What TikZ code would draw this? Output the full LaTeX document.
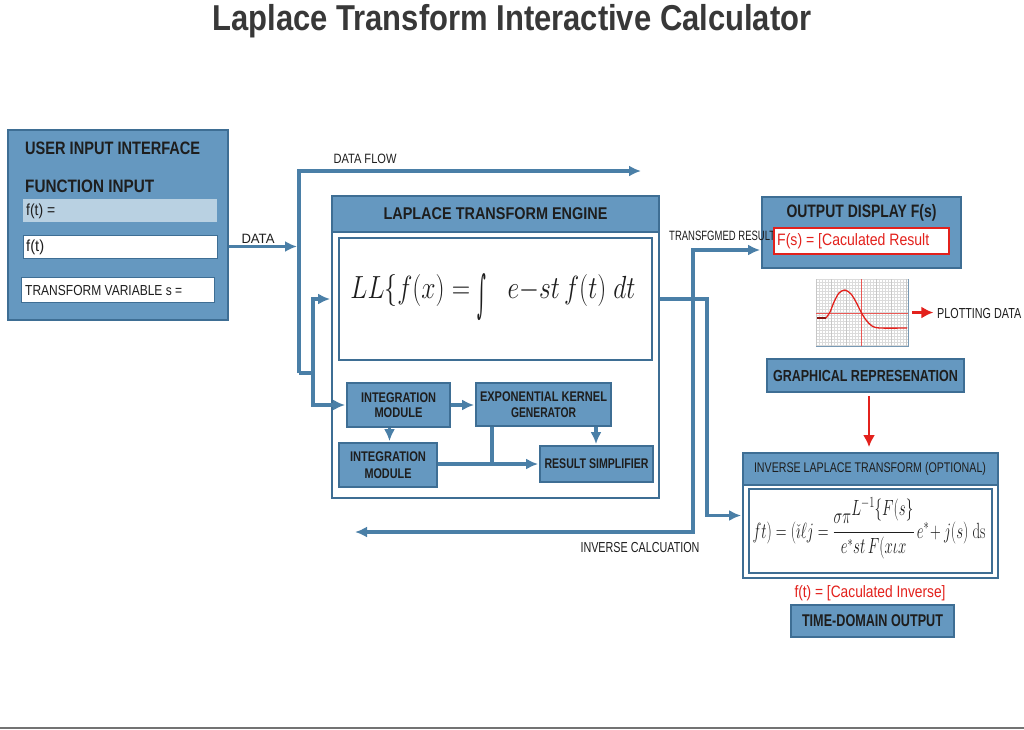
\RequirePackage{fix-cm}
\documentclass[tikz,border=0pt]{standalone}
\usepackage[no-math]{fontspec}
\setmainfont{Liberation Sans}
\newfontfamily\symf{DejaVu Serif}
\usepackage{graphicx}
\usetikzlibrary{arrows.meta,calc}
\definecolor{bfill}{HTML}{6598C0}
\definecolor{bdr}{HTML}{3E6E94}
\definecolor{conn}{HTML}{4A7FA7}
\definecolor{txt}{HTML}{1E1E1E}
\definecolor{lbar}{HTML}{B9D1E2}
\definecolor{rd}{HTML}{E3211C}
\definecolor{ttl}{HTML}{383838}
\newcommand\tw[2]{\resizebox{#1pt}{\height}{#2}}
\newcommand\fs[1]{\fontsize{#1}{#1}\selectfont}
\newcommand\bigint{\raisebox{-13pt}{\resizebox*{11pt}{47pt}{\symf ∫}}}
\begin{document}
\begin{tikzpicture}[x=1pt,y=-1pt,
  box/.style={draw=bdr, fill=bfill, line width=1.8pt, inner sep=0pt},
  wbox/.style={draw=bdr, fill=white, line width=1.8pt, inner sep=0pt},
  lbl/.style={inner sep=0pt, text=txt},
  cn/.style={draw=conn, line width=3.2pt, -{Latex[length=12pt,width=11pt]}},
  cnp/.style={draw=conn, line width=3.2pt},
  rarr/.style={draw=rd, line width=2.6pt, -{Latex[length=12pt,width=12pt]}}]
\fill[white] (0,0) rectangle (1024,729);
\useasboundingbox (0,0) rectangle (1024,729);
\fill[black!55] (0,727) rectangle (1024,729);

% title
\node[lbl, anchor=base, text=ttl] (title) at (512,30) {\tw{599}{\fs{36}\bfseries Laplace Transform Interactive Calculator}};

% user input interface
\node[box, minimum width=220, minimum height=190] (ui) at (118,225) {};
\node[lbl, anchor=west] (uit) at (25,148) {\tw{175}{\fs{18}\bfseries USER INPUT INTERFACE}};
\node[lbl, anchor=west] (fi) at (25,186) {\tw{129}{\fs{18}\bfseries FUNCTION INPUT}};
\node[fill=lbar, minimum width=194, minimum height=23, inner sep=0pt] (bar) at (120,210.5) {};
\node[lbl, anchor=west] (bart) at (26,211) {\tw{29}{\fs{16}f(t) =}};
\node[wbox, line width=1pt, minimum width=194, minimum height=23] (wb1) at (120,246.5) {};
\node[lbl, anchor=west] (wb1t) at (26,247) {\tw{18}{\fs{16}f(t)}};
\node[wbox, line width=1pt, minimum width=193, minimum height=25] (wb2) at (117.5,289.5) {};
\node[lbl, anchor=west] (wb2t) at (25,290) {\tw{157}{\fs{14.5}TRANSFORM VARIABLE s =}};

% engine
\node[wbox, minimum width=327, minimum height=302] (engine) at (495.5,347) {};
\node[box, minimum width=327, minimum height=36, anchor=north] (eh) at (engine.north) {};
\node[lbl] (eht) at (eh) {\tw{224}{\fs{17}\bfseries LAPLACE TRANSFORM ENGINE}};
\node[wbox, line width=1.3pt, minimum width=313, minimum height=122] (inner) at (495.5,299) {};
\node[lbl] (f1) at (493,297) {\tw{285}{\fs{32}$LL\{f(x) = \bigint\;\;\; e{-}st\, f(t)\; dt$}};

\node[box, minimum width=103, minimum height=44] (IM1) at (398.5,405) {};
\node[lbl, align=center, font=\fontsize{14}{15.5}\selectfont\bfseries] (IM1t) at (IM1) {\tw{75}{INTEGRATION}\\\tw{48}{MODULE}};
\node[box, minimum width=135, minimum height=43] (EKG) at (543.5,404.5) {};
\node[lbl, align=center, font=\fontsize{14}{15.5}\selectfont\bfseries] (EKGt) at (EKG) {\tw{127}{EXPONENTIAL KERNEL}\\\tw{65}{GENERATOR}};
\node[box, minimum width=98, minimum height=44] (IM2) at (388,465) {};
\node[lbl, align=center, font=\fontsize{14}{16.5}\selectfont\bfseries] (IM2t) at (IM2) {\tw{76}{INTEGRATION}\\\tw{47}{MODULE}};
\node[box, minimum width=113, minimum height=36] (RS) at (596.5,464) {};
\node[lbl] (RSt) at (RS) {\tw{104}{\fs{14}\bfseries RESULT SIMPLIFIER}};

% left connectors
\coordinate (vL) at (299,171);
\coordinate (vB) at (299,373);
\coordinate (k) at (313,373);
\coordinate (dfE) at (641,171);
\draw[cn, shorten >=2pt] (ui.east |- wb1) -- (vL |- wb1);
\node[lbl] (datat) at (258,239) {\tw{33}{\fs{13.5}DATA}};
\draw[cn, line join=miter] (vB) -- (vL) -- (dfE);
\node[lbl] (dft) at (365,159) {\tw{63}{\fs{13.5}DATA FLOW}};
\draw[cnp] (vB) -- (k);
\draw[cn, shorten >=1pt] (k) |- (engine.west |- inner.west);
\draw[cn, shorten >=1pt] (k) |- (IM1.west);

% inner connectors
\draw[cn, shorten >=1pt] (IM1.east) -- (EKG.west |- IM1.east);
\draw[cn, shorten >=1pt] ([xshift=-9pt]IM1.south) -- ([xshift=-9pt]IM1.south |- IM2.north);
\draw[cn, shorten >=1pt] ([xshift=52.5pt]EKG.south) -- ([xshift=52.5pt]EKG.south |- RS.north);
\draw[cnp] ([xshift=-51.5pt]EKG.south) -- ([xshift=-51.5pt]EKG.south |- RS.west);
\draw[cn, shorten >=1pt] (IM2.east |- RS.west) -- (RS.west);

% output display
\node[box, minimum width=199, minimum height=71] (out) at (861.5,232.5) {};
\node[lbl] (outt) at (861.5,213) {\tw{150}{\fs{18}\bfseries OUTPUT DISPLAY F(s)}};
\node[lbl, anchor=west] (trt) at (669,236) {\tw{106}{\fs{13.5}TRANSFGMED RESULT}};
\node[draw=rd, fill=white, line width=1.4pt, minimum width=175, minimum height=26, inner sep=0pt] (res) at (861.5,241) {};
\node[lbl, anchor=west, text=rd] (rest) at (777,241) {\tw{152}{\fs{16.5}F(s) = [Caculated Result}};

% inverse box
\node[wbox, minimum width=255, minimum height=125] (inv) at (870.5,515.5) {};
\node[box, minimum width=255, minimum height=32, anchor=north] (ih) at (inv.north) {};
\node[lbl] (iht) at (870,469) {\tw{232}{\fs{14}INVERSE LAPLACE TRANSFORM (OPTIONAL)}};
\node[wbox, line width=1.3pt, minimum width=243, minimum height=84] (ii) at (870.5,531) {};
\node[lbl] (f2) at (869,528) {\tw{233}{\fs{22}$\displaystyle f t) = (\check{\imath}\ell j = \frac{\sigma\pi^{\textstyle L^{-1}\{F(s\}}}{e^{\ast}st\,F(x\iota x}\,e^{\ast}\!+j(s)\ \mathrm{ds}$}};

% right connectors
\coordinate (r1) at (707,300);
\coordinate (r2) at (693,250);
\coordinate (ic) at (355,532);
\draw[cn, shorten >=1pt] (engine.east |- inner.west) -- (r1 |- inner.west) -- (r1 |- inv.west) -- (inv.west);
\draw[cnp, {Latex[length=12pt,width=11pt]}-{Latex[length=12pt,width=11pt]}, shorten >=1pt] (ic) -- (r2 |- ic) -- (r2) -- (out.west |- r2);
\node[lbl] (ict) at (640,547) {\tw{119}{\fs{14.5}INVERSE CALCUATION}};

% plot
\node[draw=bdr!70, line width=0.8pt, fill=white, minimum width=92, minimum height=67, inner sep=0pt] (grf) at (862,312.5) {};
\begin{scope}
\clip (816,279) rectangle (908,346);
\foreach \i in {0,...,31} \draw[black!14, line width=0.3pt] (816+\i*3,279) -- (816+\i*3,346);
\foreach \j in {0,...,23} \draw[black!14, line width=0.3pt] (816,279+\j*3) -- (908,279+\j*3);
\foreach \i in {0,...,6} \draw[black!22, line width=0.4pt] (816+\i*15,279) -- (816+\i*15,346);
\end{scope}
\draw[rd!75, line width=0.7pt] (816,313) -- (908,313);
\draw[rd!75, line width=0.7pt] (861,279) -- (861,346);
\draw[rd!60!black, line width=1.2pt] (817,318) -- (826,318);
\draw[rd, line width=1.3pt] plot[smooth] coordinates {(826,318) (830,312) (834,302) (839,293) (845,290) (851,294) (856,302) (861,312) (866,320) (872,326) (880,328) (907,328)};
\draw[rarr] ([xshift=4pt]grf.east) -- ++(21,0) coordinate (pdE);
\node[lbl, anchor=west] (pdt) at (937,313) {\tw{84}{\fs{14.5}PLOTTING DATA}};

% graphical representation
\node[box, minimum width=197, minimum height=33] (gr) at (865.5,375.5) {};
\node[lbl] (grt) at (gr) {\tw{185}{\fs{16}\bfseries GRAPHICAL REPRESENATION}};
\draw[rarr, shorten <=3pt, shorten >=5pt] ([xshift=3.5pt]gr.south) -- ([xshift=3.5pt]gr.south |- inv.north);

\node[lbl, text=rd] (cit) at (870,593) {\tw{151}{\fs{16.5}f(t) = [Caculated Inverse]}};
\node[box, minimum width=163, minimum height=32] (td) at (872.5,621) {};
\node[lbl] (tdt) at (td) {\tw{141}{\fs{17}\bfseries TIME-DOMAIN OUTPUT}};
\end{tikzpicture}
\end{document}
